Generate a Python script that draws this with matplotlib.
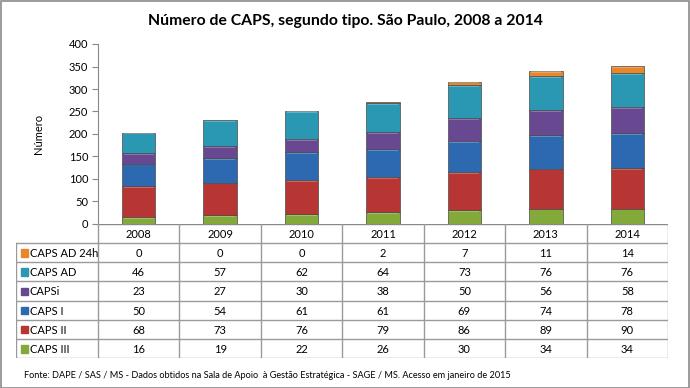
import matplotlib
matplotlib.use("Agg")
import matplotlib.pyplot as plt
from matplotlib.patches import Rectangle

plt.rcParams['font.family'] = ['Lato', 'DejaVu Sans']

anos = ["2008", "2009", "2010", "2011", "2012", "2013", "2014"]
tipos = ["CAPS III", "CAPS II", "CAPS I", "CAPSi", "CAPS AD", "CAPS AD 24h"]
caps_iii = [16, 19, 22, 26, 30, 34, 34]
caps_ii = [68, 73, 76, 79, 86, 89, 90]
caps_i = [50, 54, 61, 61, 69, 74, 78]
capsi = [23, 27, 30, 38, 50, 56, 58]
caps_ad = [46, 57, 62, 64, 73, 76, 76]
caps_ad24 = [0, 0, 0, 2, 7, 11, 14]
series = [caps_iii, caps_ii, caps_i, capsi, caps_ad, caps_ad24]
cores = ["#82a93a", "#b73532", "#2c69b0", "#684890", "#2b98b3", "#e8862a"]

W, H = 690, 388
fig = plt.figure(figsize=(W / 100, H / 100), dpi=100)

def px(x0, y0, x1, y1):
    return [x0 / W, 1 - y1 / H, (x1 - x0) / W, (y1 - y0) / H]

# barras
ax = fig.add_axes(px(98, 44, 668, 224))
n = len(anos)
base = [0] * n
for vals, cor in zip(series, cores):
    xs = [i + 0.5 for i in range(n)]
    bordas = ["#4a4a4a" if v > 0 else "none" for v in vals]
    ax.bar(xs, vals, width=0.41, bottom=base, color=cor, edgecolor=bordas, linewidth=0.5)
    # brilho no topo de cada segmento
    ax.bar(xs, [min(3, v * 0.25) for v in vals], width=0.37,
           bottom=[b + v - min(3, v * 0.25) * 1.3 for b, v in zip(base, vals)],
           color="white", alpha=0.25, linewidth=0)
    base = [b + v for b, v in zip(base, vals)]
ax.set_xlim(0, n)
ax.set_ylim(0, 400)
ax.set_yticks(range(0, 401, 50))
ax.set_xticks([])
ax.tick_params(axis="y", labelsize=8, length=4, color="#888888", pad=3)
for s in ["top", "right", "bottom"]:
    ax.spines[s].set_visible(False)
ax.spines["left"].set_color("#888888")
ax.set_ylabel("Número", fontsize=8, labelpad=18)

# tabela
tb = fig.add_axes(px(16, 224, 668, 358))
cw = 81.43
lab_w = (98 - 16) / cw
tb.set_xlim(-lab_w, n)
tb.set_ylim(7, 0)
tb.axis("off")
lc = "#9a9a9a"
tb.plot([0, n], [0, 0], color="#888888", lw=1)
for i in range(n + 1):
    tb.plot([i, i], [0, 7], color=lc, lw=1)
for r in range(1, 8):
    tb.plot([-lab_w, n], [r, r], color=lc, lw=1)
tb.plot([-lab_w, -lab_w], [1, 7], color=lc, lw=1)
for i, a in enumerate(anos):
    tb.text(i + 0.5, 0.55, a, ha="center", va="center", fontsize=8)
linhas = list(zip(tipos, series, cores))[::-1]
for r, (nome, vals, cor) in enumerate(linhas, start=1):
    tb.add_patch(Rectangle((-lab_w + 0.06, r + 0.32), 0.085, 0.4, color=cor))
    tb.text(-lab_w + 0.17, r + 0.55, nome, ha="left", va="center", fontsize=8)
    for i, v in enumerate(vals):
        tb.text(i + 0.5, r + 0.55, str(v), ha="center", va="center", fontsize=8)

fig.text(345 / W, 1 - 21 / H, "Número de CAPS, segundo tipo. São Paulo, 2008 a 2014",
         ha="center", va="center", fontsize=11.3, fontweight="bold")
fig.text(267 / W, 1 - 376 / H,
         "Fonte: DAPE / SAS / MS - Dados obtidos na Sala de Apoio  à Gestão Estratégica - SAGE / MS. Acesso em janeiro de 2015",
         ha="center", va="center", fontsize=6.6)

fig.add_artist(Rectangle((0.5 / W, 0.5 / H), 1 - 1.5 / W, 1 - 1.5 / H, transform=fig.transFigure,
                         fill=False, edgecolor="#8a8a8a", lw=1.2))

fig.savefig("out.png", dpi=100)
